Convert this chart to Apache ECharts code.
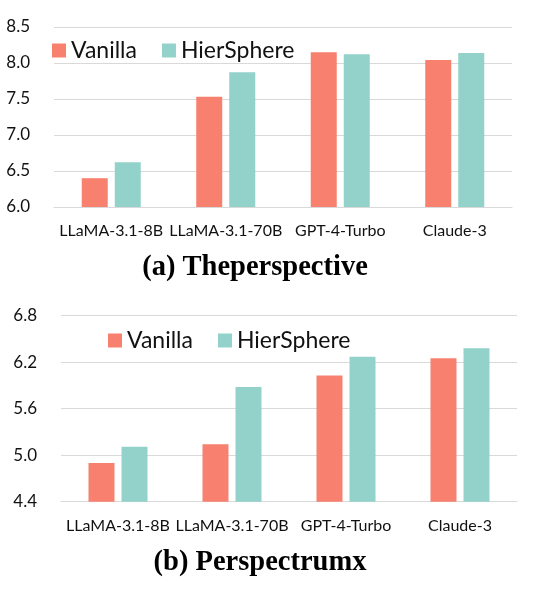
<!DOCTYPE html>
<html><head><meta charset="utf-8">
<script src="https://cdn.jsdelivr.net/npm/echarts@6/dist/echarts.min.js"></script>
<style>html,body{margin:0;padding:0;background:#fff}#c{width:550px;height:599px}</style>
</head><body><div id="c"></div>
<script>
const categories = ['LLaMA-3.1-8B', 'LLaMA-3.1-70B', 'GPT-4-Turbo', 'Claude-3'];
const seriesNames = ['Vanilla', 'HierSphere'];
const theperspectiveVanilla = [6.40, 7.53, 8.15, 8.04];
const theperspectiveHier = [6.62, 7.87, 8.12, 8.14];
const perspectrumxVanilla = [4.90, 5.14, 6.03, 6.25];
const perspectrumxHier = [5.11, 5.88, 6.27, 6.38];
const titles = ['(a) Theperspective', '(b) Perspectrumx'];

const colors = ['#F8806E', '#92D2CA'];
const labelFont = 'Lato, "Open Sans", sans-serif';
const chart = echarts.init(document.getElementById('c'));
function bar(name, data, idx, color) {
  return {type: 'bar', name: name, data: data, xAxisIndex: idx, yAxisIndex: idx,
    barWidth: 26, barGap: '27%', itemStyle: {color: color}};
}
const titleStyle = {fontFamily: '"Liberation Serif", serif', fontWeight: 'bold', fontSize: 28.5, color: '#000'};
chart.setOption({
  animation: false,
  color: colors,
  title: [
    {text: titles[0], left: 255, top: 253, textAlign: 'center', padding: 0, textStyle: titleStyle},
    {text: titles[1], left: 260, top: 548, textAlign: 'center', padding: 0, textStyle: titleStyle}
  ],
  legend: [
    {data: seriesNames, left: 52, top: 39, padding: 0, icon: 'rect', itemWidth: 14, itemHeight: 14, itemGap: 25,
     textStyle: {fontFamily: labelFont, fontSize: 23, color: '#111'}},
    {data: seriesNames, left: 108, top: 329, padding: 0, icon: 'rect', itemWidth: 14, itemHeight: 14, itemGap: 25,
     textStyle: {fontFamily: labelFont, fontSize: 23, color: '#111'}}
  ],
  grid: [
    {left: 54, right: 38, top: 27, height: 180},
    {left: 61, right: 33, top: 315.7, height: 186}
  ],
  xAxis: [0, 1].map(i => ({
    type: 'category', gridIndex: i, data: categories,
    axisLine: {show: true, lineStyle: {color: '#D9D9D9'}}, axisTick: {show: false},
    axisLabel: {fontFamily: labelFont, fontSize: 16, color: '#111', margin: 16, interval: 0}
  })),
  yAxis: [
    {type: 'value', gridIndex: 0, min: 6.0, max: 8.5, interval: 0.5,
     axisLine: {show: false}, axisTick: {show: false},
     splitLine: {lineStyle: {color: '#D9D9D9'}},
     axisLabel: {fontFamily: labelFont, fontSize: 17, color: '#111', margin: 24, formatter: v => v.toFixed(1)}},
    {type: 'value', gridIndex: 1, min: 4.4, max: 6.8, interval: 0.6,
     axisLine: {show: false}, axisTick: {show: false},
     splitLine: {lineStyle: {color: '#D9D9D9'}},
     axisLabel: {fontFamily: labelFont, fontSize: 17, color: '#111', margin: 24, formatter: v => v.toFixed(1)}}
  ],
  series: [
    bar(seriesNames[0], theperspectiveVanilla, 0, colors[0]),
    bar(seriesNames[1], theperspectiveHier, 0, colors[1]),
    bar(seriesNames[0], perspectrumxVanilla, 1, colors[0]),
    bar(seriesNames[1], perspectrumxHier, 1, colors[1])
  ]
});
</script></body></html>
